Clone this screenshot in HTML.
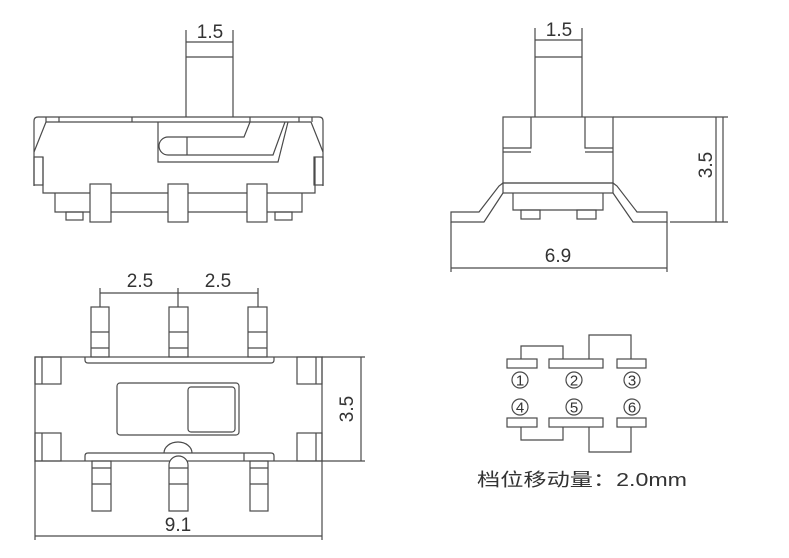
<!DOCTYPE html>
<html><head><meta charset="utf-8"><style>
html,body{margin:0;padding:0;background:#fff;}
svg{display:block;}
text{font-family:"Liberation Sans","Noto Sans CJK SC",sans-serif;fill:#333;}
</style></head><body>
<svg width="789" height="558" viewBox="0 0 789 558" xmlns="http://www.w3.org/2000/svg">
<g fill="none" stroke="#4a4a4a" stroke-width="1.2">
<line x1="186" y1="30" x2="186" y2="117"/><line x1="233" y1="30" x2="233" y2="117"/>
<line x1="186" y1="42" x2="233" y2="42"/>
<line x1="186" y1="57" x2="233" y2="57"/>
<path d="M34,186 V121 Q34,117 38,117 H319 Q323,117 323,121 V186"/>
<line x1="46" y1="122" x2="311" y2="122"/>
<line x1="46" y1="117" x2="46" y2="122"/><line x1="59" y1="117" x2="59" y2="122"/>
<line x1="132" y1="117" x2="132" y2="122"/><line x1="250" y1="117" x2="250" y2="122"/>
<line x1="299" y1="117" x2="299" y2="122"/><line x1="312" y1="117" x2="312" y2="122"/>
<line x1="46" y1="122" x2="34" y2="152"/><line x1="311" y1="122" x2="323" y2="152"/>
<rect x="34" y="157" width="9" height="28"/><rect x="314" y="157" width="9" height="28"/>
<path d="M43,157 V193 H315 V157"/>
<path d="M55,193 V212 H302 V193"/>
<rect x="66" y="212" width="17" height="8"/><rect x="275" y="212" width="17" height="8"/>
<rect x="90" y="184" width="21" height="38" fill="#fff"/>
<rect x="168" y="184" width="20" height="38" fill="#fff"/>
<rect x="247" y="184" width="20" height="38" fill="#fff"/>
<path d="M158,122 V162 H278 L288,122"/>
<path d="M250,122 L244,137 H168 A9,9 0 0 0 168,155 H273 L285,122"/>
<line x1="187" y1="137" x2="187" y2="155"/>
<line x1="535" y1="28" x2="535" y2="117"/><line x1="582" y1="28" x2="582" y2="117"/>
<line x1="535" y1="40" x2="582" y2="40"/>
<line x1="535" y1="57" x2="582" y2="57"/>
<rect x="503" y="117" width="110" height="66"/>
<rect x="503" y="183" width="110" height="10"/>
<path d="M503,148 H531 V117"/><line x1="503" y1="152" x2="531" y2="152"/>
<path d="M613,148 H585 V117"/><line x1="585" y1="152" x2="613" y2="152"/>
<path d="M513,193 V210 H603 V193"/>
<rect x="521" y="210" width="19" height="9"/><rect x="577" y="210" width="19" height="9"/>
<path d="M503,183 L499,186 L479,212 H451 V222 H484 L503,193"/>
<path d="M613,183 L617,186 L637,212 H667 V222 H633 L613,193"/>
<line x1="451" y1="222" x2="451" y2="272"/><line x1="667" y1="222" x2="667" y2="272"/>
<line x1="451" y1="268" x2="667" y2="268"/>
<line x1="613" y1="117" x2="728" y2="117"/><line x1="670" y1="222" x2="728" y2="222"/>
<line x1="716" y1="117" x2="716" y2="222"/><line x1="723" y1="117" x2="723" y2="222"/>
<line x1="100" y1="288" x2="100" y2="307"/><line x1="178" y1="288" x2="178" y2="307"/><line x1="258" y1="288" x2="258" y2="307"/>
<line x1="100" y1="293" x2="258" y2="293"/>
<rect x="35" y="357" width="287" height="104"/>
<rect x="91" y="307" width="18" height="50"/><line x1="91" y1="332" x2="109" y2="332"/><line x1="91" y1="348" x2="109" y2="348"/>
<rect x="169" y="307" width="19" height="50"/><line x1="169" y1="332" x2="188" y2="332"/><line x1="169" y1="348" x2="188" y2="348"/>
<rect x="248" y="307" width="19" height="50"/><line x1="248" y1="332" x2="267" y2="332"/><line x1="248" y1="348" x2="267" y2="348"/>
<path d="M85,357 V360 Q85,363 88,363 H271 Q274,363 274,360 V357"/>
<rect x="35" y="357" width="26" height="27"/><line x1="42" y1="357" x2="42" y2="384"/>
<rect x="35" y="433" width="26" height="28"/><line x1="42" y1="433" x2="42" y2="461"/>
<rect x="297" y="357" width="25" height="27"/><line x1="316" y1="357" x2="316" y2="384"/>
<rect x="297" y="433" width="25" height="28"/><line x1="316" y1="433" x2="316" y2="461"/>
<rect x="117" y="383" width="122" height="52" rx="3"/>
<rect x="188" y="387" width="47" height="45" rx="3"/>
<path d="M85,461 V456 Q85,453 88,453 H271 Q274,453 274,456 V461"/>
<line x1="244" y1="453" x2="244" y2="461"/>
<path d="M164,453 A14,11 0 0 1 192,453"/>
<rect x="92" y="461" width="19" height="50"/><line x1="92" y1="468" x2="111" y2="468"/><line x1="92" y1="484" x2="111" y2="484"/>
<path d="M169,511 V465 A9.5,9 0 0 1 188,465 V511 Z" fill="#fff"/><line x1="169" y1="468" x2="188" y2="468"/><line x1="169" y1="484" x2="188" y2="484"/>
<rect x="250" y="461" width="18" height="50"/><line x1="250" y1="468" x2="268" y2="468"/><line x1="250" y1="484" x2="268" y2="484"/>
<line x1="35" y1="461" x2="35" y2="540"/><line x1="322" y1="461" x2="322" y2="540"/>
<line x1="35" y1="536" x2="322" y2="536"/>
<line x1="322" y1="357" x2="365" y2="357"/><line x1="322" y1="461" x2="365" y2="461"/>
<line x1="361" y1="357" x2="361" y2="461"/>
<rect x="507" y="359" width="30" height="9"/><rect x="549" y="359" width="54" height="9"/><rect x="617" y="359" width="29" height="9"/>
<rect x="507" y="418" width="30" height="9"/><rect x="549" y="418" width="54" height="9"/><rect x="617" y="418" width="29" height="9"/>
<path d="M521,359 V346 H563 V359"/><path d="M589,359 V335 H631 V359"/>
<path d="M521,427 V440 H563 V427"/><path d="M589,427 V452 H631 V427"/>
<circle cx="520" cy="380" r="8"/><circle cx="574" cy="380" r="8"/><circle cx="632" cy="380" r="8"/>
<circle cx="520" cy="407" r="8"/><circle cx="574" cy="407" r="8"/><circle cx="632" cy="407" r="8"/>
</g>
<g font-size="19" text-anchor="middle">
<text x="210" y="38">1.5</text>
<text x="559" y="36">1.5</text>
<text x="558" y="262">6.9</text>
<text x="140" y="287">2.5</text>
<text x="218" y="287">2.5</text>
<text x="178" y="531">9.1</text>
<text transform="translate(712,165) rotate(-90)">3.5</text>
<text transform="translate(353,409) rotate(-90)">3.5</text>
</g>
<g font-size="15" text-anchor="middle">
<text x="520" y="385.5">1</text><text x="574" y="385.5">2</text><text x="632" y="385.5">3</text>
<text x="520" y="412.5">4</text><text x="574" y="412.5">5</text><text x="632" y="412.5">6</text>
</g>
<text x="477" y="486" font-size="18" textLength="210" lengthAdjust="spacingAndGlyphs">档位移动量：2.0mm</text>
</svg>
</body></html>
